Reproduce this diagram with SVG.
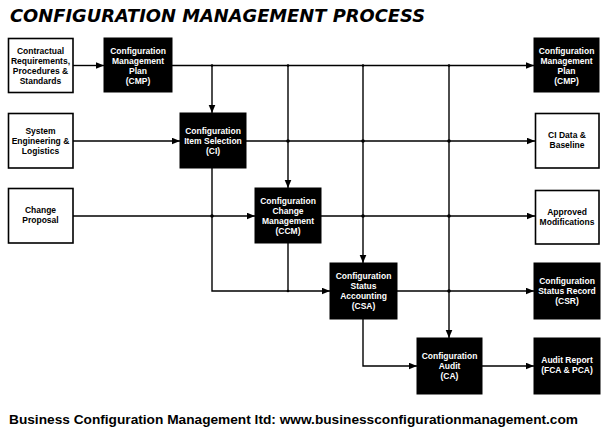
<svg xmlns="http://www.w3.org/2000/svg" width="602" height="434" viewBox="0 0 602 434">
<defs>
<marker id="arr" markerUnits="userSpaceOnUse" markerWidth="9" markerHeight="8" refX="8.5" refY="3.5" orient="auto">
<path d="M0,0 L8.5,3.5 L0,7 z" fill="#000"/>
</marker>
<style>
.w{fill:#fff;stroke:#000;stroke-width:1.6}
.b{fill:#000;stroke:#000;stroke-width:1}
text{font-family:"Liberation Sans",Arial,sans-serif;font-weight:bold;font-size:8.5px;text-anchor:middle}
.wt{fill:#fff}
.bt{fill:#000}
.c line,.c polyline{stroke:#000;stroke-width:1.4;fill:none}
.d{fill:#000}
</style>
</defs>
<rect width="602" height="434" fill="#fff"/>
<text x="10" y="22" style="font-family:'DejaVu Sans',sans-serif;font-size:17px;font-style:italic;font-weight:900;text-anchor:start" textLength="415" lengthAdjust="spacingAndGlyphs">CONFIGURATION MANAGEMENT PROCESS</text>

<g class="c" id="connectors">
<line x1="73" y1="65.5" x2="104" y2="65.5" marker-end="url(#arr)"/>
<line x1="172" y1="65.5" x2="534" y2="65.5" marker-end="url(#arr)"/>
<line x1="212" y1="65.5" x2="212" y2="113" marker-end="url(#arr)"/>
<line x1="288" y1="65.5" x2="288" y2="188" marker-end="url(#arr)"/>
<line x1="363" y1="65.5" x2="363" y2="263" marker-end="url(#arr)"/>
<line x1="449" y1="65.5" x2="449" y2="338" marker-end="url(#arr)"/>
<line x1="73" y1="141" x2="180" y2="141" marker-end="url(#arr)"/>
<line x1="246" y1="141" x2="535" y2="141" marker-end="url(#arr)"/>
<line x1="73" y1="216" x2="255" y2="216" marker-end="url(#arr)"/>
<line x1="321" y1="216" x2="535" y2="216" marker-end="url(#arr)"/>
<polyline points="212,168 212,291 330,291" marker-end="url(#arr)"/>
<line x1="288" y1="243" x2="288" y2="291"/>
<line x1="397" y1="291" x2="534" y2="291" marker-end="url(#arr)"/>
<polyline points="363,319 363,366 417,366" marker-end="url(#arr)"/>
<line x1="482" y1="366" x2="534" y2="366" marker-end="url(#arr)"/>
<circle class="d" cx="212" cy="65.5" r="1.3"/>
<circle class="d" cx="288" cy="65.5" r="1.3"/>
<circle class="d" cx="363" cy="65.5" r="1.3"/>
<circle class="d" cx="449" cy="65.5" r="1.3"/>
<circle class="d" cx="288" cy="141" r="1.8"/>
<circle class="d" cx="363" cy="141" r="1.8"/>
<circle class="d" cx="449" cy="141" r="1.8"/>
<circle class="d" cx="212" cy="216" r="1.8"/>
<circle class="d" cx="363" cy="216" r="1.8"/>
<circle class="d" cx="449" cy="216" r="1.8"/>
<circle class="d" cx="288" cy="291" r="1.3"/>
<circle class="d" cx="449" cy="291" r="1.8"/>
</g>

<g id="contractual">
<rect class="w" x="8.5" y="38.5" width="64.5" height="54"/>
<text class="bt" x="40.5" y="53.5">Contractual</text>
<text class="bt" x="40.5" y="63.5">Requirements,</text>
<text class="bt" x="40.5" y="73.5">Procedures &amp;</text>
<text class="bt" x="40.5" y="83.5">Standards</text>
</g>
<g id="cmp">
<rect class="b" x="104" y="38" width="68" height="54"/>
<text class="wt" x="138" y="53.5">Configuration</text>
<text class="wt" x="138" y="63.5">Management</text>
<text class="wt" x="138" y="73.5">Plan</text>
<text class="wt" x="138" y="83.5">(CMP)</text>
</g>
<g id="cmp-out">
<rect class="b" x="534" y="38" width="65" height="54"/>
<text class="wt" x="566.5" y="53.5">Configuration</text>
<text class="wt" x="566.5" y="63.5">Management</text>
<text class="wt" x="566.5" y="73.5">Plan</text>
<text class="wt" x="566.5" y="83.5">(CMP)</text>
</g>
<g id="system">
<rect class="w" x="8.5" y="113.5" width="64.5" height="54.5"/>
<text class="bt" x="40.5" y="134">System</text>
<text class="bt" x="40.5" y="144">Engineering &amp;</text>
<text class="bt" x="40.5" y="154">Logistics</text>
</g>
<g id="ci">
<rect class="b" x="180" y="113" width="66" height="55"/>
<text class="wt" x="213" y="134">Configuration</text>
<text class="wt" x="213" y="144">Item  Selection</text>
<text class="wt" x="213" y="154">(CI)</text>
</g>
<g id="ci-data">
<rect class="w" x="535.5" y="113.5" width="63.5" height="54.5"/>
<text class="bt" x="567" y="138">CI Data &amp;</text>
<text class="bt" x="567" y="148">Baseline</text>
</g>
<g id="change">
<rect class="w" x="8.5" y="188.5" width="64.5" height="54.5"/>
<text class="bt" x="40.5" y="213">Change</text>
<text class="bt" x="40.5" y="223">Proposal</text>
</g>
<g id="ccm">
<rect class="b" x="255" y="188" width="66" height="55"/>
<text class="wt" x="288" y="203.5">Configuration</text>
<text class="wt" x="288" y="213.5">Change</text>
<text class="wt" x="288" y="223.5">Management</text>
<text class="wt" x="288" y="233.5">(CCM)</text>
</g>
<g id="approved">
<rect class="w" x="535.5" y="190.5" width="63.5" height="53.5"/>
<text class="bt" x="567" y="214.5">Approved</text>
<text class="bt" x="567" y="224.5">Modifications</text>
</g>
<g id="csa">
<rect class="b" x="330" y="263" width="67" height="56"/>
<text class="wt" x="363.5" y="279">Configuration</text>
<text class="wt" x="363.5" y="289">Status</text>
<text class="wt" x="363.5" y="299">Accounting</text>
<text class="wt" x="363.5" y="309">(CSA)</text>
</g>
<g id="csr">
<rect class="b" x="534" y="263" width="66" height="56"/>
<text class="wt" x="567" y="284">Configuration</text>
<text class="wt" x="567" y="294">Status Record</text>
<text class="wt" x="567" y="304">(CSR)</text>
</g>
<g id="ca">
<rect class="b" x="417" y="338" width="65" height="56"/>
<text class="wt" x="449.5" y="358.5">Configuration</text>
<text class="wt" x="449.5" y="368.5">Audit</text>
<text class="wt" x="449.5" y="378.5">(CA)</text>
</g>
<g id="audit-report">
<rect class="b" x="534" y="338" width="66" height="56"/>
<text class="wt" x="567" y="363">Audit Report</text>
<text class="wt" x="567" y="373">(FCA &amp; PCA)</text>
</g>
<text x="9" y="424" style="font-size:13.5px;text-anchor:start" textLength="569" lengthAdjust="spacingAndGlyphs">Business Configuration Management ltd: www.businessconfigurationmanagement.com</text>
</svg>
